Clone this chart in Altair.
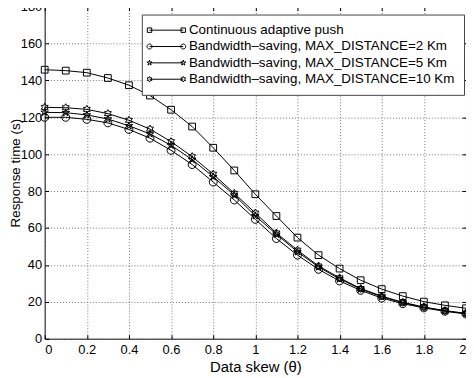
import altair as alt
import pandas as pd

# ---- data ----
skew = [0.0, 0.1, 0.2, 0.3, 0.4, 0.5, 0.6, 0.7, 0.8, 0.9, 1.0,
        1.1, 1.2, 1.3, 1.4, 1.5, 1.6, 1.7, 1.8, 1.9, 2.0]
series_names = [
    "Continuous adaptive push",
    "Bandwidth\u2013saving, MAX_DISTANCE=2 Km",
    "Bandwidth\u2013saving, MAX_DISTANCE=5 Km",
    "Bandwidth\u2013saving, MAX_DISTANCE=10 Km",
]
continuous = [145.8, 145.3, 144.2, 141.3, 137.4, 131.8, 124.1, 115.0, 103.5, 91.2, 78.3,
              66.5, 54.8, 45.3, 38.0, 31.7, 26.9, 23.1, 20.1, 18.1, 16.5]
bw2 = [120.0, 120.0, 118.9, 117.0, 113.4, 108.7, 102.1, 94.4, 84.9, 75.2, 64.7,
       54.3, 45.3, 37.6, 31.3, 26.2, 22.0, 19.0, 16.7, 14.9, 13.4]
bw5 = [122.7, 122.5, 121.3, 119.1, 115.4, 111.0, 104.8, 97.1, 87.8, 77.9, 66.6,
       56.6, 47.1, 38.9, 32.4, 26.9, 22.7, 19.5, 17.0, 15.0, 13.6]
bw10 = [125.4, 125.2, 124.3, 122.0, 118.4, 113.6, 106.8, 98.7, 89.2, 78.8, 68.1,
        57.3, 48.0, 39.4, 33.0, 27.2, 23.1, 19.7, 17.2, 15.2, 13.8]
x_ticks = [0, 0.2, 0.4, 0.6, 0.8, 1, 1.2, 1.4, 1.6, 1.8, 2]
y_ticks = [0, 20, 40, 60, 80, 100, 120, 140, 160, 180]

rows = []
for name, vals in zip(series_names, [continuous, bw2, bw5, bw10]):
    for xv, yv in zip(skew, vals):
        rows.append({"skew": xv, "time": yv, "series": name})
df = pd.DataFrame(rows)

# ---- marker shapes (unit coordinates) ----
square = [(-1, -1), (1, -1), (1, 1), (-1, 1)]
pentagram = [(0, -1), (0.225, -0.309), (0.951, -0.309), (0.363, 0.118), (0.588, 0.809),
             (0, 0.382), (-0.588, 0.809), (-0.363, 0.118), (-0.951, -0.309), (-0.225, -0.309)]
hexagram = [(0, -1), (0.289, -0.5), (0.866, -0.5), (0.577, 0), (0.866, 0.5), (0.289, 0.5),
            (0, 1), (-0.289, 0.5), (-0.866, 0.5), (-0.577, 0), (-0.866, -0.5), (-0.289, -0.5)]


def poly(pts, s=1.0, dx=0.0):
    return "M" + "L".join(f"{dx + x * s:.3f},{y * s:.3f}" for x, y in pts) + "Z"


def circ(s=1.0, dx=0.0):
    return (f"M{dx + s:.3f},0A{s:.3f},{s:.3f} 0 1,1 {dx - s:.3f},0"
            f"A{s:.3f},{s:.3f} 0 1,1 {dx + s:.3f},0Z")


plot_shapes = [poly(square, 0.85), circ(1.0), poly(pentagram), poly(hexagram)]

# legend symbol: nominal size 10px (1 unit = 5px), line with a marker at each end
L0, L1, ms = -1.6, 5.2, 0.5
def legend_path(kind):
    base = f"M{L0},0L{L1},0"
    if kind == "sq":
        return base + poly(square, ms * 0.9, L0) + poly(square, ms * 0.9, L1)
    if kind == "ci":
        return base + circ(ms, L0) + circ(ms, L1)
    if kind == "pe":
        return base + poly(pentagram, ms * 1.1, L0) + poly(pentagram, ms * 1.1, L1)
    return base + poly(hexagram, ms * 1.1, L0) + poly(hexagram, ms * 1.1, L1)

legend_shapes = [legend_path(k) for k in ["sq", "ci", "pe", "he"]]

FONT = "Liberation Sans"

base = alt.Chart(df)

lines = base.mark_line(color="black", strokeWidth=1).encode(
    x=alt.X("skew:Q", scale=alt.Scale(domain=[0, 2], nice=False),
            axis=alt.Axis(values=x_ticks, format="~g", title="Data skew (\u03b8)",
                          grid=True, gridDash=[1, 2], gridColor="#777", gridOpacity=1,
                          domain=False, tickSize=4, tickColor="black", offset=-4,
                          labelPadding=5, labelFontSize=13, titleFontSize=15,
                          titleFontWeight="normal", titlePadding=3,
                          labelColor="black", titleColor="black")),
    y=alt.Y("time:Q", scale=alt.Scale(domain=[0, 180], nice=False),
            axis=alt.Axis(values=y_ticks, title="Response time (s)",
                          grid=True, gridDash=[1, 2], gridColor="#777", gridOpacity=1,
                          domain=False, tickSize=4, tickColor="black", offset=-4,
                          labelPadding=3, labelFontSize=13, titleFontSize=13.5,
                          titleFontWeight="normal", titlePadding=-2,
                          labelColor="black", titleColor="black")),
    detail="series:N",
)

points = base.mark_point(filled=False, color="black", size=64, strokeWidth=1, opacity=1).encode(
    x=alt.X("skew:Q", scale=alt.Scale(domain=[0, 2], nice=False),
            axis=alt.Axis(orient="top", values=x_ticks, labels=False, title=None, grid=False,
                          domain=False, tickSize=4, tickColor="black", offset=-4)),
    y=alt.Y("time:Q", scale=alt.Scale(domain=[0, 180], nice=False),
            axis=alt.Axis(orient="right", values=y_ticks, labels=False, title=None, grid=False,
                          domain=False, tickSize=4, tickColor="black", offset=-4)),
    shape=alt.Shape("series:N", scale=alt.Scale(domain=series_names, range=plot_shapes),
                    legend=None),
)

legend_layer = base.mark_point(filled=False, color="black", size=64, opacity=0).encode(
    x=alt.X("skew:Q", axis=None),
    y=alt.Y("time:Q", axis=None),
    shape=alt.Shape("series:N", scale=alt.Scale(domain=series_names, range=legend_shapes),
                    legend=alt.Legend(title=None, orient="none", legendX=98, legendY=8,
                                      fillColor="white", strokeColor="#444",
                                      padding=9, symbolSize=100, symbolStrokeWidth=1,
                                      symbolStrokeColor="black", symbolOpacity=1,
                                      labelFont=FONT, labelFontSize=13.5, labelColor="black",
                                      labelOffset=25, labelLimit=500, rowPadding=1.5)),
)

chart = alt.layer(lines, points, legend_layer).resolve_scale(
    shape="independent"
).resolve_axis(
    x="independent", y="independent"
).properties(
    width=425, height=335,
    autosize=alt.AutoSizeParams(type="none"),
    padding={"left": 37, "top": -3, "right": 0, "bottom": 35},
).configure(
    font=FONT,
).configure_view(
    stroke="black", strokeWidth=1
).configure_axis(
    labelFont=FONT, titleFont=FONT
)

chart.save("out.html", embed_options={"renderer": "svg", "actions": False})
